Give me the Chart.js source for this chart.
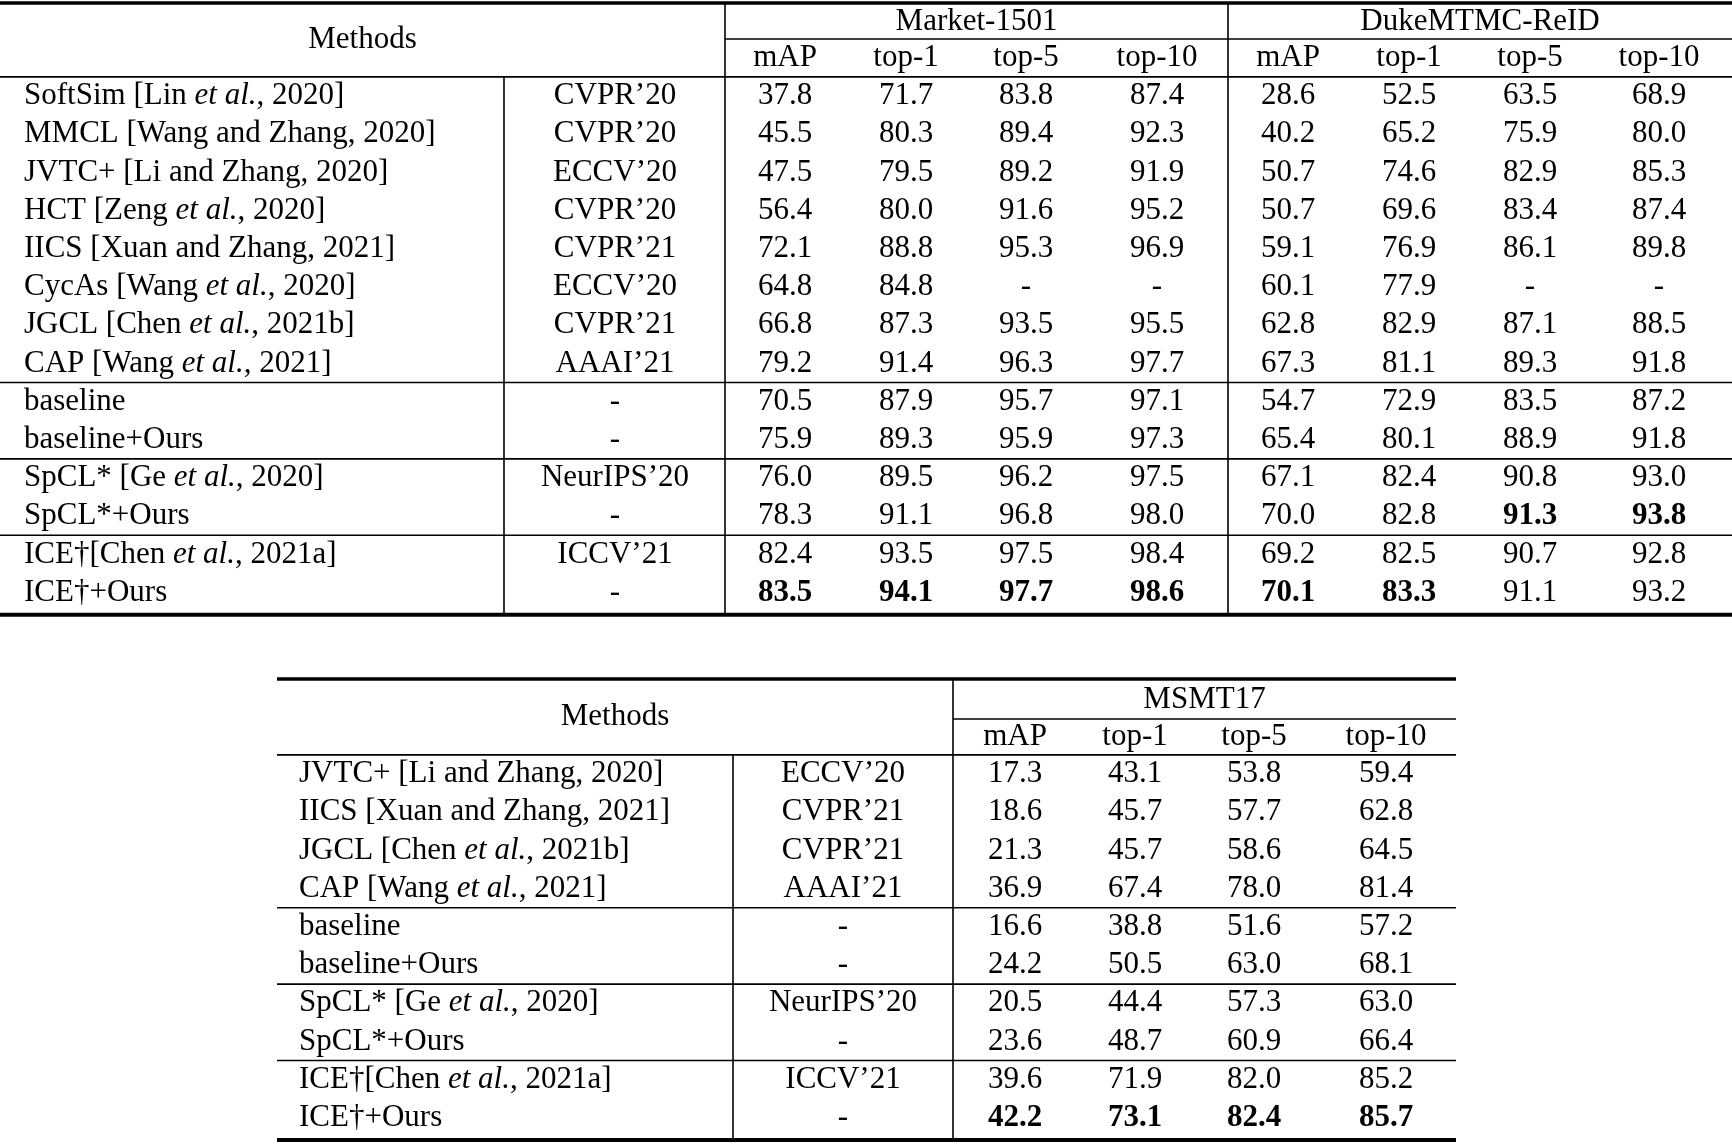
<!DOCTYPE html>
<html><head><meta charset="utf-8">
<script src="https://cdn.jsdelivr.net/npm/chart.js@4"></script>
<style>html,body{margin:0;background:#fff}#wrap{width:1732px;height:1148px}</style>
</head><body><div id="wrap"><canvas id="c"></canvas></div>
<script>
// Table 1: Market-1501 / DukeMTMC-ReID
const methods1 = ['SoftSim [Lin et al., 2020]', 'MMCL [Wang and Zhang, 2020]', 'JVTC+ [Li and Zhang, 2020]', 'HCT [Zeng et al., 2020]',
    'IICS [Xuan and Zhang, 2021]', 'CycAs [Wang et al., 2020]', 'JGCL [Chen et al., 2021b]', 'CAP [Wang et al., 2021]',
    'baseline', 'baseline+Ours', 'SpCL* [Ge et al., 2020]', 'SpCL*+Ours', 'ICE†[Chen et al., 2021a]', 'ICE†+Ours'];
const venues1 = ['CVPR’20', 'CVPR’20', 'ECCV’20', 'CVPR’20', 'CVPR’21', 'ECCV’20', 'CVPR’21', 'AAAI’21', '-', '-', 'NeurIPS’20', '-', 'ICCV’21', '-'];
const marketMAP = [37.8, 45.5, 47.5, 56.4, 72.1, 64.8, 66.8, 79.2, 70.5, 75.9, 76.0, 78.3, 82.4, 83.5];
const marketTop1 = [71.7, 80.3, 79.5, 80.0, 88.8, 84.8, 87.3, 91.4, 87.9, 89.3, 89.5, 91.1, 93.5, 94.1];
const marketTop5 = [83.8, 89.4, 89.2, 91.6, 95.3, null, 93.5, 96.3, 95.7, 95.9, 96.2, 96.8, 97.5, 97.7];
const marketTop10 = [87.4, 92.3, 91.9, 95.2, 96.9, null, 95.5, 97.7, 97.1, 97.3, 97.5, 98.0, 98.4, 98.6];
const dukeMAP = [28.6, 40.2, 50.7, 50.7, 59.1, 60.1, 62.8, 67.3, 54.7, 65.4, 67.1, 70.0, 69.2, 70.1];
const dukeTop1 = [52.5, 65.2, 74.6, 69.6, 76.9, 77.9, 82.9, 81.1, 72.9, 80.1, 82.4, 82.8, 82.5, 83.3];
const dukeTop5 = [63.5, 75.9, 82.9, 83.4, 86.1, null, 87.1, 89.3, 83.5, 88.9, 90.8, 91.3, 90.7, 91.1];
const dukeTop10 = [68.9, 80.0, 85.3, 87.4, 89.8, null, 88.5, 91.8, 87.2, 91.8, 93.0, 93.8, 92.8, 93.2];
const groups1 = [8, 10, 12]; // rows after which a rule is drawn

// Table 2: MSMT17
const methods2 = ['JVTC+ [Li and Zhang, 2020]', 'IICS [Xuan and Zhang, 2021]', 'JGCL [Chen et al., 2021b]', 'CAP [Wang et al., 2021]',
    'baseline', 'baseline+Ours', 'SpCL* [Ge et al., 2020]', 'SpCL*+Ours', 'ICE†[Chen et al., 2021a]', 'ICE†+Ours'];
const venues2 = ['ECCV’20', 'CVPR’21', 'CVPR’21', 'AAAI’21', '-', '-', 'NeurIPS’20', '-', 'ICCV’21', '-'];
const msmtMAP = [17.3, 18.6, 21.3, 36.9, 16.6, 24.2, 20.5, 23.6, 39.6, 42.2];
const msmtTop1 = [43.1, 45.7, 45.7, 67.4, 38.8, 50.5, 44.4, 48.7, 71.9, 73.1];
const msmtTop5 = [53.8, 57.7, 58.6, 78.0, 51.6, 63.0, 57.3, 60.9, 82.0, 82.4];
const msmtTop10 = [59.4, 62.8, 64.5, 81.4, 57.2, 68.1, 63.0, 66.4, 85.2, 85.7];
const groups2 = [4, 6, 8];
const metricLabels = ['mAP', 'top-1', 'top-5', 'top-10'];

const FONT = '"Liberation Serif", "DejaVu Serif", serif';
const SIZE = 31;
const PITCH = 38.2;

const tables = [
    { left: 0, right: 1732, top: 3, methodX: 24, venueX: 615, splitX: 504, methods: methods1, venues: venues1,
      datasets: [{ name: 'Market-1501', cols: [marketMAP, marketTop1, marketTop5, marketTop10], xs: [785, 906, 1026, 1157], lx: 725 },
                 { name: 'DukeMTMC-ReID', cols: [dukeMAP, dukeTop1, dukeTop5, dukeTop10], xs: [1288, 1409, 1530, 1659], lx: 1228 }],
      groups: groups1, firstRow: 96, headY: 39, subY: 58 },
    { left: 277, right: 1456, top: 679, methodX: 299, venueX: 843, splitX: 733, methods: methods2, venues: venues2,
      datasets: [{ name: 'MSMT17', cols: [msmtMAP, msmtTop1, msmtTop5, msmtTop10], xs: [1015, 1135, 1254, 1386], lx: 953 }],
      groups: groups2, firstRow: 774, headY: 719, subY: 735 }
];

function drawMethod(ctx, text, x, y) {
    const parts = text.split('et al.');
    let cx = x;
    parts.forEach((p, i) => {
        ctx.font = `${SIZE}px ${FONT}`;
        ctx.fillText(p, cx, y);
        cx += ctx.measureText(p).width;
        if (i < parts.length - 1) {
            ctx.font = `italic ${SIZE}px ${FONT}`;
            ctx.fillText('et al.', cx, y);
            cx += ctx.measureText('et al.').width;
        }
    });
}

const tablePlugin = {
    id: 'tablePlugin',
    afterDraw(chart) {
        const ctx = chart.ctx, sx = chart.scales.x, sy = chart.scales.y;
        const X = v => sx.getPixelForValue(v), Y = v => sy.getPixelForValue(v);
        const hline = (x1, x2, y, w) => { ctx.lineWidth = w; ctx.beginPath(); ctx.moveTo(X(x1), Y(y)); ctx.lineTo(X(x2), Y(y)); ctx.stroke(); };
        const vline = (x, y1, y2) => { ctx.lineWidth = 1.6; ctx.beginPath(); ctx.moveTo(X(x), Y(y1)); ctx.lineTo(X(x), Y(y2)); ctx.stroke(); };
        ctx.save();
        ctx.fillStyle = '#000'; ctx.strokeStyle = '#000'; ctx.textBaseline = 'middle';
        tables.forEach(t => {
            const n = t.methods.length;
            const rowY = i => t.firstRow + PITCH * i;
            const headBottom = rowY(0) - PITCH / 2;
            const bottom = rowY(n - 1) + PITCH / 2 + 3;
            hline(t.left, t.right, t.top, 3.5);
            hline(t.left, t.right, headBottom, 1.6);
            t.groups.forEach(g => hline(t.left, t.right, rowY(g) - PITCH / 2, 1.6));
            hline(t.left, t.right, bottom, 4);
            vline(t.splitX, headBottom, bottom);
            // header
            ctx.textAlign = 'center';
            ctx.font = `${SIZE}px ${FONT}`;
            ctx.fillText('Methods', X((t.left + t.datasets[0].lx) / 2), Y((t.top + headBottom) / 2));
            t.datasets.forEach((d, di) => {
                vline(d.lx, t.top, bottom);
                const rx = di < t.datasets.length - 1 ? t.datasets[di + 1].lx : t.right;
                hline(d.lx, rx, t.headY, 1.6);
                ctx.font = `${SIZE}px ${FONT}`; ctx.textAlign = 'center';
                ctx.fillText(d.name, X((d.lx + rx) / 2), Y((t.top + t.headY) / 2 + 1));
                metricLabels.forEach((m, k) => ctx.fillText(m, X(d.xs[k]), Y((t.headY + headBottom) / 2)));
                d.cols.forEach((col, k) => {
                    const best = Math.max(...col.filter(v => v !== null));
                    col.forEach((v, i) => {
                        ctx.font = `${v === best ? 'bold ' : ''}${SIZE}px ${FONT}`;
                        ctx.fillText(v === null ? '-' : v.toFixed(1), X(d.xs[k]), Y(rowY(i)));
                    });
                });
            });
            t.methods.forEach((m, i) => {
                ctx.textAlign = 'left';
                drawMethod(ctx, m, X(t.methodX), Y(rowY(i)));
                ctx.textAlign = 'center';
                ctx.font = `${SIZE}px ${FONT}`;
                ctx.fillText(t.venues[i], X(t.venueX), Y(rowY(i)));
            });
        });
        ctx.restore();
    }
};

new Chart(document.getElementById('c'), {
    type: 'scatter',
    data: { datasets: [{ data: [] }] },
    options: {
        responsive: true, maintainAspectRatio: false, animation: false,
        layout: { padding: 0 },
        plugins: { legend: { display: false }, tooltip: { enabled: false } },
        scales: {
            x: { type: 'linear', min: 0, max: 1732, display: false },
            y: { type: 'linear', min: 0, max: 1148, reverse: true, display: false }
        }
    },
    plugins: [tablePlugin]
});
</script></body></html>
